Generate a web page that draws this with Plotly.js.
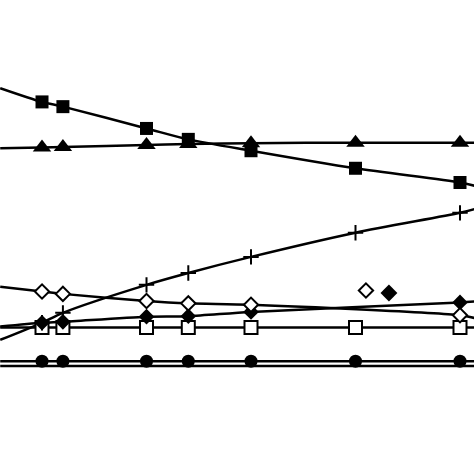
<!DOCTYPE html>
<html lang="en">
<head>
    <meta charset="UTF-8">
    <title>chart</title>
    <script src="https://cdn.plot.ly/plotly-3.0.1.min.js"></script>
    <style>
        html, body { margin: 0; padding: 0; background: #fff; }
    </style>
</head>
<body>

<div id="tester" style="width:474px;height:474px;"></div>

<script>
    // time points of the measurements
    let days = [0, 1, 5, 7, 10, 15, 20];
    let daysNo15 = [0, 1, 5, 7, 10, 20];

    // curve ends, read where the lines leave the picture
    let leftX = -2;
    let rightX = 20.7;

    let filledSquare = [78.5, 77.5, 72.9, 70.6, 68.2, 64.5, 61.5];
    let filledSquareEnds = [81.4, 60.8];

    let filledTriangle = [68.9, 69.0, 69.4, 69.6, 69.8, 69.9, 69.9];
    let filledTriangleEnds = [68.7, 69.9];

    let plusSeries = [31.9, 34.0, 39.9, 42.4, 45.8, 50.9, 55.1];
    let plusEnds = [28.3, 55.9];

    let openDiamond = [38.5, 38.0, 36.5, 36.0, 35.7, 33.5];
    let openDiamondEnds = [39.5, 32.9];

    let filledDiamond = [31.9, 32.1, 33.2, 33.3, 34.2, 36.2];
    let filledDiamondEnds = [31.1, 36.4];

    let openSquare = [30.9, 30.9, 30.9, 30.9, 30.9, 30.9, 30.9];
    let openSquareEnds = [30.9, 30.9];

    let filledCircle = [23.8, 23.8, 23.8, 23.8, 23.8, 23.8, 23.8];
    let filledCircleEnds = [23.8, 23.8];

    // second line just under the circles, no markers
    let plainLineEnds = [22.8, 22.8];

    // the two loose diamonds
    let looseX = [15.5, 16.6];
    let looseY = [38.7, 38.2];

    function curve(xs, ys, ends) {
        return {
            x: [leftX].concat(xs, [rightX]),
            y: [ends[0]].concat(ys, [ends[1]]),
            mode: 'lines',
            type: 'scatter',
            line: {color: '#000', width: 2.5, shape: 'spline', smoothing: 0.8},
            hoverinfo: 'skip'
        };
    }

    function points(xs, ys, symbol, size, fill) {
        return {
            x: xs,
            y: ys,
            mode: 'markers',
            type: 'scatter',
            marker: {
                symbol: symbol,
                size: size,
                color: fill,
                line: {color: '#000', width: fill === '#fff' ? 2 : 0}
            }
        };
    }

    let data = [
        curve(days, filledSquare, filledSquareEnds),
        curve(days, filledTriangle, filledTriangleEnds),
        curve(days, plusSeries, plusEnds),
        curve(daysNo15, openDiamond, openDiamondEnds),
        curve(daysNo15, filledDiamond, filledDiamondEnds),
        curve(days, openSquare, openSquareEnds),
        curve(days, filledCircle, filledCircleEnds),
        curve([], [], plainLineEnds),

        points(days, filledCircle, 'circle', 13, '#000'),
        points(days, openSquare, 'square', 13, '#fff'),
        points(daysNo15, filledDiamond, 'diamond', 12, '#000'),
        points(daysNo15, openDiamond, 'diamond', 11, '#fff'),
        points(days, plusSeries, 'cross-thin-open', 11, '#000'),
        points(days, filledTriangle, 'triangle-up', 16, '#000'),
        points(days, filledSquare, 'square', 13, '#000'),
        points([looseX[0]], [looseY[0]], 'diamond', 11, '#fff'),
        points([looseX[1]], [looseY[1]], 'diamond', 13, '#000')
    ];
    data[12].marker.line = {color: '#000', width: 2};

    let layout = {
        width: 474,
        height: 474,
        margin: {l: 0, r: 0, t: 0, b: 0},
        showlegend: false,
        paper_bgcolor: '#fff',
        plot_bgcolor: '#fff',
        xaxis: {range: [-2.01, 20.67], visible: false, fixedrange: true},
        yaxis: {range: [0, 100], visible: false, fixedrange: true}
    };

    Plotly.newPlot('tester', data, layout, {staticPlot: true});
</script>

</body>
</html>
